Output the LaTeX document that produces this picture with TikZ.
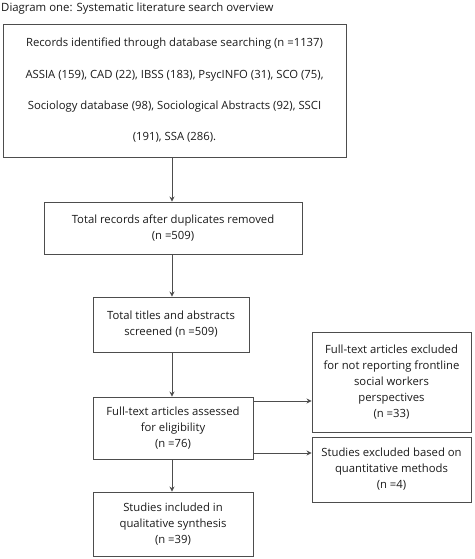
\documentclass[tikz,border=0pt]{standalone}
\usepackage{fontspec}
\setmainfont{Open Sans}
\usetikzlibrary{arrows.meta}
\definecolor{linegray}{HTML}{4D4D4D}
\definecolor{txt}{HTML}{1A1A1A}
\begin{document}
\begin{tikzpicture}[x=1pt,y=1pt,
  box/.style={draw=linegray, line width=0.9pt, align=center, inner sep=0pt, text=txt,
    font=\fontsize{11.3}{16}\selectfont},
  arr/.style={draw=linegray, line width=0.8pt, -{Stealth[length=5pt,width=5pt]}}]
\useasboundingbox (0,0) rectangle (474,-559);
\node[anchor=west, inner sep=0pt, text=txt, font=\fontsize{11.4}{12}\selectfont] (title) at (1,-9) {Diagram one: Systematic literature search overview};
\node[box, minimum width=343pt, minimum height=133pt, font=\fontsize{11.3}{31.3}\selectfont] (b1) at (174.5,-90.5)
  {Records identified through database searching (n =1137)\\ASSIA (159), CAD (22), IBSS (183), PsycINFO (31), SCO (75),\\Sociology database (98), Sociological Abstracts (92), SSCI\\(191), SSA (286).};
\node[box, minimum width=258pt, minimum height=52pt] (b2) at (173,-228)
  {Total records after duplicates removed\\(n =509)};
\node[box, minimum width=156pt, minimum height=55pt] (b3) at (171,-324.5)
  {Total titles and abstracts\\screened (n =509)};
\node[box, minimum width=160pt, minimum height=62pt] (b4) at (173,-428)
  {Full-text articles assessed\\for eligibility\\(n =76)};
\node[box, minimum width=159pt, minimum height=100pt] (b5) at (391.5,-382)
  {Full-text articles excluded\\for not reporting frontline\\social workers\\perspectives\\(n =33)};
\node[box, minimum width=159pt, minimum height=65pt] (b6) at (391.5,-469.5)
  {Studies excluded based on\\quantitative methods\\(n =4)};
\node[box, minimum width=160pt, minimum height=64pt] (b7) at (173,-524)
  {Studies included in\\qualitative synthesis\\(n =39)};
\coordinate (ax) at (172,0);
\coordinate (h1) at (0,-401);
\coordinate (h2) at (0,-453);
\draw[arr] (b1.south -| ax) -- (b2.north -| ax);
\draw[arr] (b2.south -| ax) -- (b3.north -| ax);
\draw[arr] (b3.south -| ax) -- (b4.north -| ax);
\draw[arr] (b4.south -| ax) -- (b7.north -| ax);
\draw[arr] (b4.east |- h1) -- (b5.west |- h1);
\draw[arr] (b4.east |- h2) -- (b6.west |- h2);
\end{tikzpicture}
\end{document}
